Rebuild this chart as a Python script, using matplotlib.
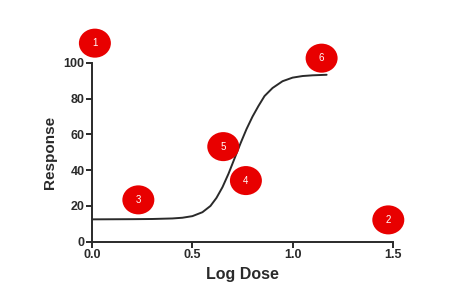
import matplotlib.pyplot as plt
from matplotlib.patches import Ellipse

# curve
log_dose = [0.0, 0.2, 0.3, 0.40, 0.45, 0.50, 0.55, 0.59, 0.62, 0.65, 0.68, 0.71,
            0.74, 0.77, 0.80, 0.83, 0.86, 0.90, 0.95, 1.00, 1.05, 1.10, 1.17]
response = [12.5, 12.6, 12.7, 13.0, 13.4, 14.3, 16.5, 20.0, 24.5, 30.5, 38.0, 46.5,
            55.0, 63.0, 70.0, 76.0, 81.5, 86.0, 89.8, 91.8, 92.7, 93.1, 93.4]

# numbered red badges
badge_labels = ["1", "2", "3", "4", "5", "6"]
badge_x = [0.013, 1.478, 0.23, 0.767, 0.654, 1.145]
badge_y = [111.1, 12.2, 23.4, 34.2, 53.2, 102.7]

plt.rcParams['font.family'] = ['Liberation Sans', 'DejaVu Sans']

fig = plt.figure(figsize=(4.74, 2.92), dpi=100)
ax = fig.add_axes([0.1947, 0.1723, 0.6338, 0.612])

ax.plot(log_dose, response, color='#2a2a2a', lw=1.4, solid_capstyle='round',
        solid_joinstyle='round')

ax.set_xlim(0, 1.5)
ax.set_ylim(0, 100)
ax.set_xticks([0.0, 0.5, 1.0, 1.5])
ax.set_xticklabels(["0.0", "0.5", "1.0", "1.5"])
ax.set_yticks([0, 20, 40, 60, 80, 100])

for s in ['top', 'right']:
    ax.spines[s].set_visible(False)
for s in ['left', 'bottom']:
    ax.spines[s].set_linewidth(1.4)
    ax.spines[s].set_color('#2a2a2a')

ax.tick_params(direction='out', length=4, width=1.4, color='#2a2a2a',
               labelsize=9, labelcolor='#2a2a2a', pad=1.5)
for lab in ax.get_xticklabels() + ax.get_yticklabels():
    lab.set_fontweight('bold')

ax.set_xlabel("Log Dose", fontsize=11.5, fontweight='bold', color='#2a2a2a', labelpad=4)
ax.set_ylabel("Response", fontsize=11, fontweight='bold', color='#2a2a2a', labelpad=5)

# badge size: ~32 x 29 px
w = 32 / 200.3
h = 29 / 1.785
for lab, bx, by in zip(badge_labels, badge_x, badge_y):
    e = Ellipse((bx, by), w, h, facecolor='#e80000', edgecolor='none',
                clip_on=False, zorder=5)
    ax.add_patch(e)
    ax.text(bx, by, lab, color='white', fontsize=7, ha='center', va='center',
            zorder=6, clip_on=False)

fig.savefig('out.png', dpi=100)
